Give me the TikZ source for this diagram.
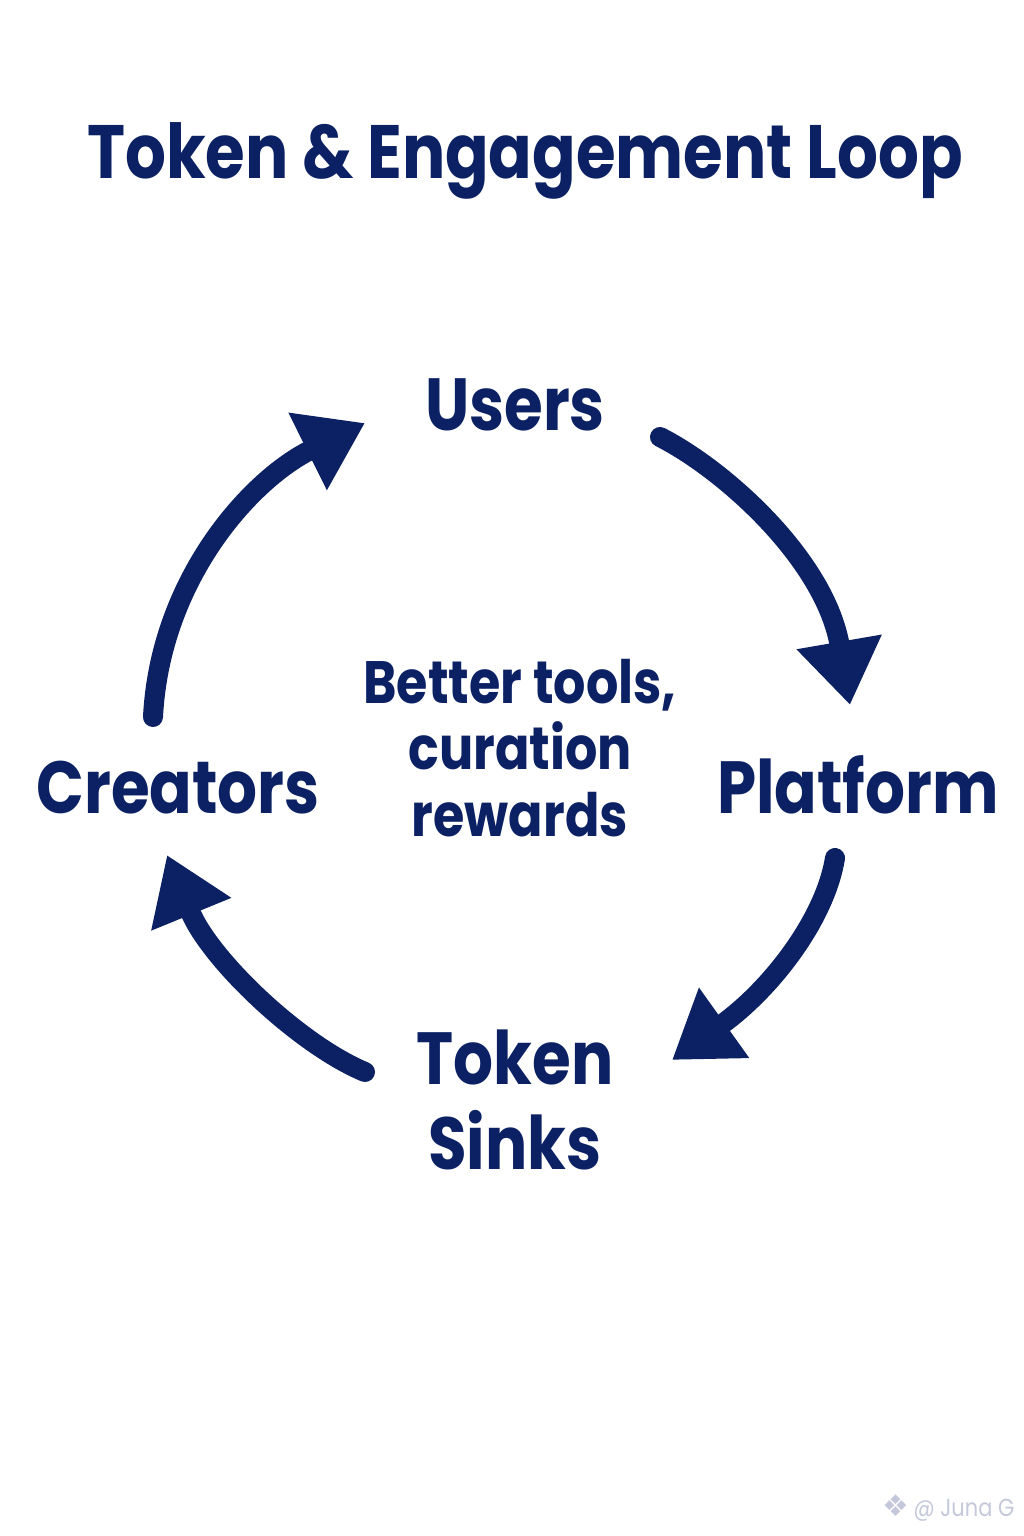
\documentclass[tikz,border=0pt]{standalone}
\usepackage{fontspec}
\setmainfont{Poppins}[BoldFont={* Bold}, FakeStretch=0.85]
\newfontfamily\symfont{DejaVu Sans}
\usepackage{tikz}
\usetikzlibrary{calc, positioning, arrows.meta}

\definecolor{loopnavy}{RGB}{12,33,100}
\definecolor{markgray}{RGB}{196,200,218}

\begin{document}
\begin{tikzpicture}[x=0.01cm, y=-0.01cm, line cap=round, line join=round,
	looparrow/.style={draw=loopnavy, line width=0.2cm, -{Triangle[length=0.64cm, width=0.82cm]}},
	bigtext/.style={text=loopnavy, font=\fontsize{21}{24.2}\selectfont\bfseries, inner sep=0pt},
	midtext/.style={text=loopnavy, font=\fontsize{17}{18.8}\selectfont\bfseries, inner sep=0pt, align=center}]

\useasboundingbox (0,0) rectangle (1024,1536);

% title
\node[bigtext, anchor=base, font=\fontsize{21.5}{26}\selectfont\bfseries] (title) at (525,178) {Token \& Engagement Loop};

% the four stations
\node[bigtext, anchor=base] (users) at (515,430) {Users};
\node[bigtext, anchor=base] (platform) at (858,813) {Platform};
\node[bigtext, anchor=base] (creators) at (178,813) {Creators};
\node[bigtext, align=center] (sinks) at (515,1100) {Token\\Sinks};

% centre text
\node[midtext] (centre) at (520,748) {Better tools,\\curation\\rewards};

% arrow ends
\coordinate (c1s) at (153,717);
\coordinate (c1e) at (365,423);
\coordinate (c2s) at (660,437);
\coordinate (c2e) at (850,705);
\coordinate (c3s) at (835,858);
\coordinate (c3e) at (672,1060);
\coordinate (c4s) at (365,1072);
\coordinate (c4e) at (167,855);

\draw[looparrow] (c1s) .. controls (160,580) and (250,480) .. (c1e);
\draw[looparrow] (c2s) .. controls (725,470) and (825,560) .. (c2e);
\draw[looparrow] (c3s) .. controls (825,920) and (770,990) .. (c3e);
\draw[looparrow] (c4s) .. controls (300,1045) and (210,960) .. (c4e);

% watermark
\node[text=markgray, font=\fontsize{7}{8}\selectfont, anchor=east, inner sep=0pt] (mark) at (1015,1508) {{\symfont\fontsize{8.5}{9}\selectfont ❖}\,@ Juna G};

\end{tikzpicture}
\end{document}
